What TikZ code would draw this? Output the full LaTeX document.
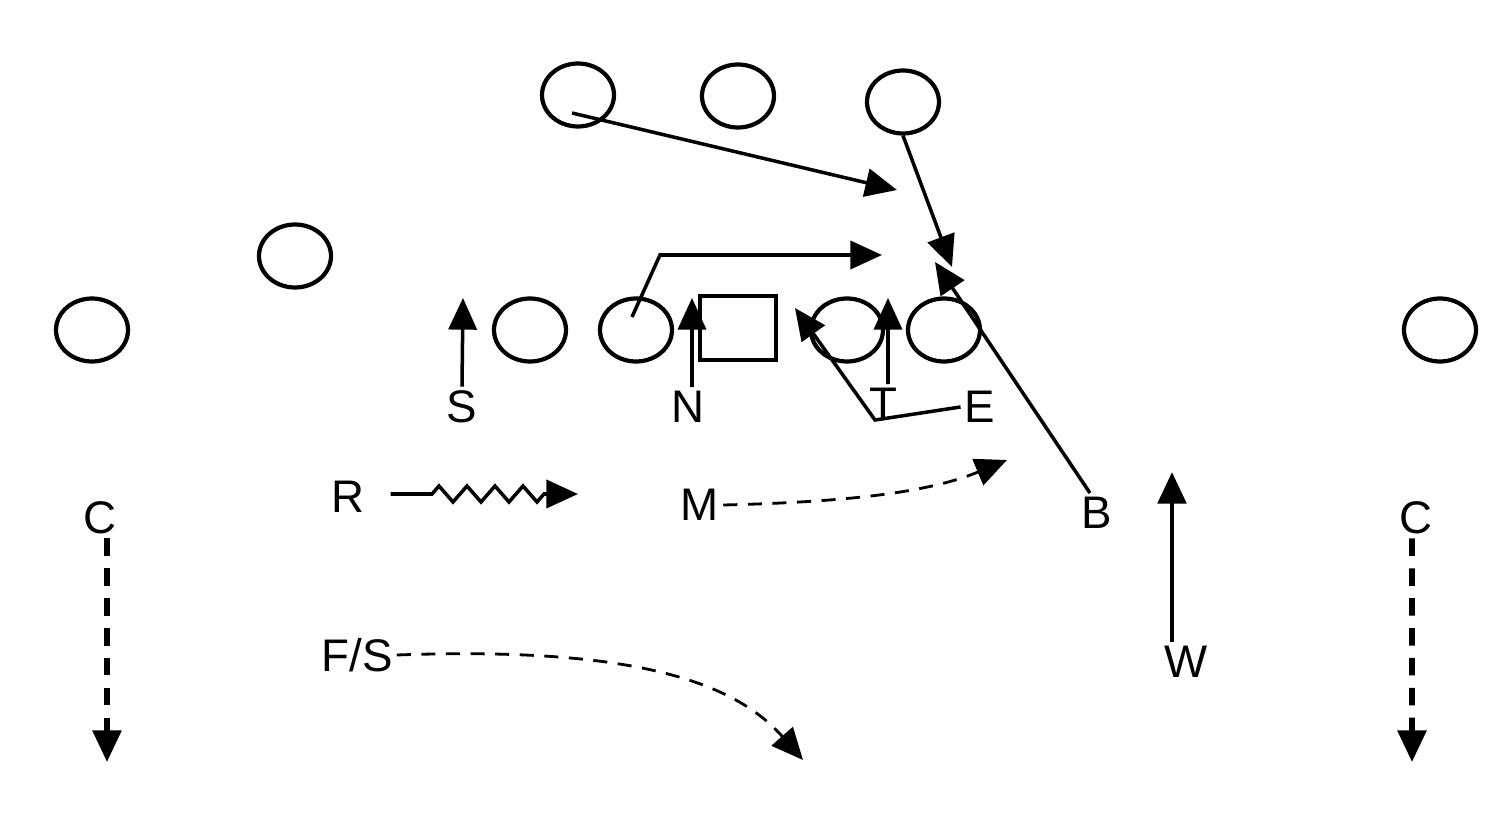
\documentclass[tikz,border=0pt]{standalone}
\usepackage{fontspec}
\setmainfont{Liberation Sans}
\usetikzlibrary{positioning}
\usetikzlibrary{arrows.meta}
\usetikzlibrary{shapes.geometric}
\usetikzlibrary{decorations.pathmorphing}
\tikzset{node distance=1cm, % Default gap between nodes
      player/.style={ % Offensive players drawn as open ovals
      ellipse, draw, line width=1.2pt,
      minimum width=0.72cm, minimum height=0.63cm, inner sep=0pt},
      snapper/.style={ % The center is a square
      draw, line width=1.2pt,
      minimum width=0.76cm, minimum height=0.64cm, inner sep=0pt},
      tag/.style={ % Defenders are letters
      font=\fontsize{13}{15}\selectfont, inner sep=1pt},
      run/.style={ % Solid assignment with a filled head
      draw, line width=1pt,
      -{Triangle[length=9pt,width=8pt]}},
      drop/.style={ % Dashed drop into coverage
      run, line width=1.6pt, dash pattern=on 5pt off 3.5pt},
      drift/.style={ % Thin dashed pursuit
      run, line width=0.8pt, dash pattern=on 4pt off 3pt}}

\begin{document}
\begin{tikzpicture}
      \useasboundingbox (0,0) rectangle (15,8.22);
      % offense
      \node[player] (o1) at (5.78,7.27) {};
      \node[player] (o2) at (7.38,7.26) {};
      \node[player] (o3) at (9.03,7.20) {};
      \node[player] (wr) at (2.95,5.66) {};
      \node[player] (le) at (0.92,4.92) {};
      \node[player] (g1) at (5.30,4.92) {};
      \node[player] (g2) at (6.36,4.92) {};
      \node[snapper] (ctr) at (7.38,4.94) {};
      \node[player] (g3) at (8.47,4.92) {};
      \node[player] (g4) at (9.44,4.92) {};
      \node[player] (re) at (14.40,4.92) {};
      % defense
      \node[tag] (S) at (4.62,4.15) {S};
      \node[tag] (N) at (6.88,4.15) {N};
      \node[tag] (T) at (8.83,4.18) {T};
      \node[tag] (E) at (9.80,4.15) {E};
      \node[tag] (R) at (3.48,3.25) {R};
      \node[tag] (M) at (7.00,3.17) {M};
      \node[tag] (B) at (10.97,3.09) {B};
      \node[tag] (Cl) at (1.00,3.04) {C};
      \node[tag] (Cr) at (14.16,3.04) {C};
      \node[tag] (W) at (11.86,1.60) {W};
      \node[tag] (FS) at (3.57,1.67) {F/S};
      % arrow ends
      \coordinate (a1) at (8.97,6.32);
      \coordinate (a2) at (9.52,5.55);
      \coordinate (k3) at (6.60,5.67);
      \coordinate (a3) at (8.82,5.67);
      \coordinate (aS) at (4.63,5.24);
      \coordinate (aN) at (6.92,5.24);
      \coordinate (aT) at (8.88,5.24);
      \coordinate (kE) at (8.75,4.02);
      \coordinate (aE) at (7.95,5.14);
      \coordinate (aB) at (9.35,5.60);
      \coordinate (zR) at (4.32,3.28);
      \coordinate (yR) at (5.45,3.28);
      \coordinate (aR) at (5.78,3.28);
      \coordinate (aM) at (10.07,3.62);
      \coordinate (aF) at (8.03,0.62);
      \coordinate (aCl) at (1.07,0.60);
      \coordinate (aCr) at (14.12,0.60);
      \coordinate (aW) at (11.72,3.50);
      % offensive routes
      \draw[run] ([shift={(-0.06,-0.18)}]o1.center) -- (a1);
      \draw[run] (o3.south) -- (a2);
      \draw[run] ([shift={(-0.04,0.13)}]g2.center) -- (k3) -- (a3);
      % defensive moves
      \draw[run] (S.north) -- (aS);
      \draw[run] ([xshift=0.04cm]N.north) -- (aN);
      \draw[run] ([xshift=0.05cm]T.north) -- (aT);
      \draw[run] (E.west) -- (kE) -- (aE);
      \draw[run] ([xshift=-0.07cm]B.north) -- (aB);
      \draw[run] ([shift={(0.22,0.03)}]R.east) -- (zR)
            decorate[decoration={zigzag, segment length=0.28cm, amplitude=0.08cm}] {-- (yR)}
            -- (aR);
      \draw[drift] (M.east) .. controls (8.5,3.2) and (9.3,3.3) .. (aM);
      \draw[drift] (FS.east) .. controls (6.2,1.75) and (7.3,1.45) .. (aF);
      \draw[drop] ([xshift=0.07cm]Cl.south) -- (aCl);
      \draw[drop] ([xshift=-0.04cm]Cr.south) -- (aCr);
      \draw[run, line width=1.4pt] ([xshift=-0.14cm]W.north) -- (aW);
\end{tikzpicture}
\end{document}
